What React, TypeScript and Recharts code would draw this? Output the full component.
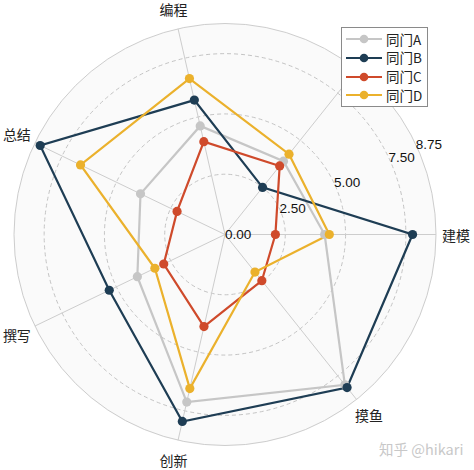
import {
	RadarChart,
	Radar,
	PolarGrid,
	PolarAngleAxis,
	PolarRadiusAxis,
	Legend,
} from "recharts";

// skill dimensions, clockwise from the right (the 7th spoke's label sits under the legend)
const dimensions = ["建模", "摸鱼", "创新", "撰写", "总结", "编程", "调研"];

const seriesNames = ["同门A", "同门B", "同门C", "同门D"];
const seriesColors = ["#c6c6c6", "#1e3d54", "#cf4a2b", "#ebb12c"];

const valuesA = [4.25, 8.2, 7.33, 4.15, 4.0, 4.75, 4.0];
const valuesB = [8.0, 8.35, 8.18, 5.48, 8.75, 5.88, 2.57];
const valuesC = [2.15, 2.52, 4.03, 2.9, 2.27, 4.06, 3.74];
const valuesD = [4.45, 2.05, 6.74, 3.32, 6.84, 6.82, 4.38];

const radiusTicks = [0, 2.5, 5, 7.5, 8.75];
const dashedRings = [2.5, 5, 7.5];
const rMax = 8.75;

const W = 474;
const H = 470;
const CX = 225;
const CY = 234.5;
const R = 211;
const RAD = Math.PI / 180;

const data = dimensions.map((d, i) => ({
	dim: d,
	A: valuesA[i],
	B: valuesB[i],
	C: valuesC[i],
	D: valuesD[i],
}));

const keys = ["A", "B", "C", "D"];

const AngleTick = (props: any) => {
	const angle = props.payload.coordinate;
	const r = R + 20;
	const x = CX + r * Math.cos(-angle * RAD);
	const y = CY + r * Math.sin(-angle * RAD);
	return (
		<text
			x={x}
			y={y}
			textAnchor="middle"
			dominantBaseline="central"
			fontSize={14}
			fill="#222"
			fontFamily="'Noto Sans CJK SC', sans-serif"
		>
			{props.payload.value}
		</text>
	);
};

const RadiusTick = (props: any) => {
	const v = props.payload.value;
	const r = (v / rMax) * R;
	const a = 25.3 * RAD;
	return (
		<text
			x={CX + r * Math.cos(a)}
			y={CY - r * Math.sin(a)}
			textAnchor="start"
			dominantBaseline="central"
			fontSize={13.5}
			fill="#111"
			fontFamily="'Liberation Sans', Arial, sans-serif"
		>
			{v.toFixed(2)}
		</text>
	);
};

const makeDot = (color: string) => (p: any) => (
	<circle
		key={`${color}-${p.index}`}
		cx={p.cx}
		cy={p.cy}
		r={4.6}
		fill={color}
		stroke="none"
	/>
);

const LegendBox = () => (
	<div
		style={{
			background: "#fff",
			border: "1px solid #8a8a8a",
			padding: "2px 4px 2px 3px",
			boxSizing: "border-box",
			width: 87,
			height: 80,
		}}
	>
		{seriesNames.map((n, i) => (
			<div
				key={n}
				style={{
					display: "flex",
					alignItems: "center",
					height: 18.7,
					fontFamily: "'Noto Sans CJK SC', sans-serif",
					fontSize: 13.5,
					color: "#222",
				}}
			>
				<svg
					width={38}
					height={12}
					style={{ marginRight: 3 }}
				>
					<line
						x1={1}
						y1={6}
						x2={37}
						y2={6}
						stroke={seriesColors[i]}
						strokeWidth={2.2}
					/>
					<circle
						cx={19}
						cy={6}
						r={4.3}
						fill={seriesColors[i]}
					/>
				</svg>
				<span style={{ lineHeight: 1 }}>{n}</span>
			</div>
		))}
	</div>
);

export default function App() {
	return (
		<div
			style={{
				position: "absolute",
				left: 0,
				top: 0,
				width: W,
				height: H,
				background: "#fff",
			}}
		>
			<div
				style={{
					position: "absolute",
					left: CX - R,
					top: CY - R,
					width: 2 * R,
					height: 2 * R,
					borderRadius: "50%",
					background: "#fafafa",
				}}
			/>
			<RadarChart
				width={W}
				height={H}
				data={data}
				cx={CX}
				cy={CY}
				outerRadius={R}
				startAngle={0}
				endAngle={-360}
				margin={{ top: 0, right: 0, bottom: 0, left: 0 }}
			>
				<PolarGrid
					gridType="circle"
					radialLines={false}
					polarRadius={dashedRings.map((v) => (v / rMax) * R)}
					stroke="#c4c4c4"
					strokeDasharray="4 3"
				/>
				<PolarGrid
					gridType="circle"
					polarRadius={[R]}
					stroke="#cdcdcd"
				/>
				<PolarAngleAxis
					dataKey="dim"
					tick={<AngleTick />}
					axisLine={false}
					tickLine={false}
				/>
				<PolarRadiusAxis
					angle={25.3}
					domain={[0, rMax]}
					ticks={radiusTicks}
					axisLine={false}
					tickLine={false}
					tick={<RadiusTick />}
				/>
				{keys.map((k, i) => (
					<Radar
						key={k}
						name={seriesNames[i]}
						dataKey={k}
						stroke={seriesColors[i]}
						strokeWidth={2.2}
						fill="none"
						fillOpacity={0}
						dot={makeDot(seriesColors[i])}
						isAnimationActive={false}
					/>
				))}
				<Legend
					layout="horizontal"
					verticalAlign="middle"
					align="center"
					content={<LegendBox />}
					wrapperStyle={{ left: 341, top: 27, width: 87, height: 80 }}
				/>
			</RadarChart>
			<div
				style={{
					position: "absolute",
					left: 379,
					top: 438,
					fontFamily: "'Noto Sans CJK SC', sans-serif",
					fontSize: 14.5,
					color: "#c8c8c8",
				}}
			>
				知乎 @hikari
			</div>
		</div>
	);
}
